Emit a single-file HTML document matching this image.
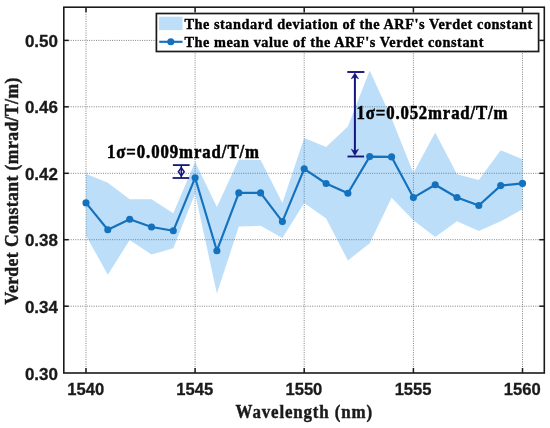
<!DOCTYPE html>
<html><head><meta charset="utf-8"><title>Verdet constant</title>
<style>
html,body{margin:0;padding:0;background:#fff;}
body{width:550px;height:428px;overflow:hidden;}
svg{display:block;}
.tk{font-family:"Liberation Sans",Arial,sans-serif;font-weight:bold;font-size:17px;fill:#1a1a1a;stroke:#1a1a1a;stroke-width:0.3px;}
.lb{font-family:"Liberation Serif","Times New Roman",serif;font-weight:bold;font-size:17.6px;fill:#1a1a1a;stroke:#1a1a1a;stroke-width:0.45px;}
.an{font-family:"Liberation Serif","Times New Roman",serif;font-weight:bold;font-size:17.5px;fill:#000;stroke:#000;stroke-width:0.55px;}
.lg{font-family:"Liberation Serif","Times New Roman",serif;font-weight:bold;font-size:15.3px;fill:#000;stroke:#000;stroke-width:0.4px;}
.tx{font-size:16.6px;}
</style></head><body>
<svg width="550" height="428" viewBox="0 0 550 428">
<rect width="550" height="428" fill="#fff"/>
<line x1="86.0" y1="7.2" x2="86.0" y2="373.0" stroke="#808080" stroke-width="1" stroke-dasharray="1 1.3"/>
<line x1="195.1" y1="7.2" x2="195.1" y2="373.0" stroke="#808080" stroke-width="1" stroke-dasharray="1 1.3"/>
<line x1="304.2" y1="7.2" x2="304.2" y2="373.0" stroke="#808080" stroke-width="1" stroke-dasharray="1 1.3"/>
<line x1="413.4" y1="7.2" x2="413.4" y2="373.0" stroke="#808080" stroke-width="1" stroke-dasharray="1 1.3"/>
<line x1="522.5" y1="7.2" x2="522.5" y2="373.0" stroke="#808080" stroke-width="1" stroke-dasharray="1 1.3"/>
<line x1="63.8" y1="40.4" x2="544.3" y2="40.4" stroke="#808080" stroke-width="1" stroke-dasharray="1 1.3"/>
<line x1="63.8" y1="106.8" x2="544.3" y2="106.8" stroke="#808080" stroke-width="1" stroke-dasharray="1 1.3"/>
<line x1="63.8" y1="173.3" x2="544.3" y2="173.3" stroke="#808080" stroke-width="1" stroke-dasharray="1 1.3"/>
<line x1="63.8" y1="239.7" x2="544.3" y2="239.7" stroke="#808080" stroke-width="1" stroke-dasharray="1 1.3"/>
<line x1="63.8" y1="306.2" x2="544.3" y2="306.2" stroke="#808080" stroke-width="1" stroke-dasharray="1 1.3"/>
<polygon fill="rgb(32,145,232)" fill-opacity="0.3" points="86.0,173.7 107.8,182.7 129.7,199.2 151.5,199.2 173.3,213.3 195.1,162.1 216.9,207.0 238.8,159.5 260.6,160.1 282.4,203.1 304.2,138.0 326.1,147.1 347.9,126.4 369.7,70.6 391.6,118.5 413.4,173.0 435.2,132.5 457.0,174.3 478.8,180.0 500.7,150.2 522.5,159.2 522.5,209.2 500.7,221.3 478.8,231.0 457.0,221.3 435.2,237.0 413.4,220.3 391.6,197.8 369.7,243.3 347.9,260.4 326.1,218.5 304.2,203.0 282.4,237.9 260.6,225.7 238.8,226.6 216.9,293.5 195.1,193.5 173.3,248.2 151.5,254.6 129.7,240.1 107.8,274.7 86.0,235.5"/>
<polyline fill="none" stroke="#1471be" stroke-width="2.15" stroke-linejoin="round" points="86.0,202.9 107.8,229.8 129.7,219.2 151.5,227.0 173.3,230.8 195.1,177.8 216.9,250.7 238.8,192.9 260.6,192.9 282.4,221.6 304.2,168.8 326.1,183.5 347.9,193.2 369.7,156.6 391.6,156.9 413.4,197.6 435.2,184.7 457.0,197.5 478.8,205.5 500.7,185.6 522.5,183.4"/>
<circle cx="86.0" cy="202.9" r="3.55" fill="#1471be"/>
<circle cx="107.8" cy="229.8" r="3.55" fill="#1471be"/>
<circle cx="129.7" cy="219.2" r="3.55" fill="#1471be"/>
<circle cx="151.5" cy="227.0" r="3.55" fill="#1471be"/>
<circle cx="173.3" cy="230.8" r="3.55" fill="#1471be"/>
<circle cx="195.1" cy="177.8" r="3.55" fill="#1471be"/>
<circle cx="216.9" cy="250.7" r="3.55" fill="#1471be"/>
<circle cx="238.8" cy="192.9" r="3.55" fill="#1471be"/>
<circle cx="260.6" cy="192.9" r="3.55" fill="#1471be"/>
<circle cx="282.4" cy="221.6" r="3.55" fill="#1471be"/>
<circle cx="304.2" cy="168.8" r="3.55" fill="#1471be"/>
<circle cx="326.1" cy="183.5" r="3.55" fill="#1471be"/>
<circle cx="347.9" cy="193.2" r="3.55" fill="#1471be"/>
<circle cx="369.7" cy="156.6" r="3.55" fill="#1471be"/>
<circle cx="391.6" cy="156.9" r="3.55" fill="#1471be"/>
<circle cx="413.4" cy="197.6" r="3.55" fill="#1471be"/>
<circle cx="435.2" cy="184.7" r="3.55" fill="#1471be"/>
<circle cx="457.0" cy="197.5" r="3.55" fill="#1471be"/>
<circle cx="478.8" cy="205.5" r="3.55" fill="#1471be"/>
<circle cx="500.7" cy="185.6" r="3.55" fill="#1471be"/>
<circle cx="522.5" cy="183.4" r="3.55" fill="#1471be"/>
<rect x="63.8" y="7.2" width="480.5" height="365.8" fill="none" stroke="#1a1a1a" stroke-width="1.6"/>
<line x1="86.0" y1="373.0" x2="86.0" y2="368.0" stroke="#1a1a1a" stroke-width="1.5"/>
<line x1="86.0" y1="7.2" x2="86.0" y2="12.2" stroke="#1a1a1a" stroke-width="1.5"/>
<line x1="195.1" y1="373.0" x2="195.1" y2="368.0" stroke="#1a1a1a" stroke-width="1.5"/>
<line x1="195.1" y1="7.2" x2="195.1" y2="12.2" stroke="#1a1a1a" stroke-width="1.5"/>
<line x1="304.2" y1="373.0" x2="304.2" y2="368.0" stroke="#1a1a1a" stroke-width="1.5"/>
<line x1="304.2" y1="7.2" x2="304.2" y2="12.2" stroke="#1a1a1a" stroke-width="1.5"/>
<line x1="413.4" y1="373.0" x2="413.4" y2="368.0" stroke="#1a1a1a" stroke-width="1.5"/>
<line x1="413.4" y1="7.2" x2="413.4" y2="12.2" stroke="#1a1a1a" stroke-width="1.5"/>
<line x1="522.5" y1="373.0" x2="522.5" y2="368.0" stroke="#1a1a1a" stroke-width="1.5"/>
<line x1="522.5" y1="7.2" x2="522.5" y2="12.2" stroke="#1a1a1a" stroke-width="1.5"/>
<line x1="63.8" y1="40.4" x2="68.8" y2="40.4" stroke="#1a1a1a" stroke-width="1.5"/>
<line x1="544.3" y1="40.4" x2="539.3" y2="40.4" stroke="#1a1a1a" stroke-width="1.5"/>
<line x1="63.8" y1="106.8" x2="68.8" y2="106.8" stroke="#1a1a1a" stroke-width="1.5"/>
<line x1="544.3" y1="106.8" x2="539.3" y2="106.8" stroke="#1a1a1a" stroke-width="1.5"/>
<line x1="63.8" y1="173.3" x2="68.8" y2="173.3" stroke="#1a1a1a" stroke-width="1.5"/>
<line x1="544.3" y1="173.3" x2="539.3" y2="173.3" stroke="#1a1a1a" stroke-width="1.5"/>
<line x1="63.8" y1="239.7" x2="68.8" y2="239.7" stroke="#1a1a1a" stroke-width="1.5"/>
<line x1="544.3" y1="239.7" x2="539.3" y2="239.7" stroke="#1a1a1a" stroke-width="1.5"/>
<line x1="63.8" y1="306.2" x2="68.8" y2="306.2" stroke="#1a1a1a" stroke-width="1.5"/>
<line x1="544.3" y1="306.2" x2="539.3" y2="306.2" stroke="#1a1a1a" stroke-width="1.5"/>
<text class="tk tx" x="85.7" y="394.9" text-anchor="middle">1540</text>
<text class="tk tx" x="194.8" y="394.9" text-anchor="middle">1545</text>
<text class="tk tx" x="303.9" y="394.9" text-anchor="middle">1550</text>
<text class="tk tx" x="413.1" y="394.9" text-anchor="middle">1555</text>
<text class="tk tx" x="522.2" y="394.9" text-anchor="middle">1560</text>
<text class="tk" x="58" y="47.0" text-anchor="end">0.50</text>
<text class="tk" x="58" y="113.4" text-anchor="end">0.46</text>
<text class="tk" x="58" y="179.9" text-anchor="end">0.42</text>
<text class="tk" x="58" y="246.3" text-anchor="end">0.38</text>
<text class="tk" x="58" y="312.8" text-anchor="end">0.34</text>
<text class="tk" x="58" y="379.6" text-anchor="end">0.30</text>
<text class="lb" style="font-size:18.4px" transform="translate(235.6,418.2) scale(0.920,1.000)" textLength="148.3" lengthAdjust="spacing">Wavelength (nm)</text>
<text class="lb" style="font-size:18.8px" transform="translate(17.5,304.6) rotate(-90) scale(0.940,1.000)" textLength="241.5" lengthAdjust="spacing">Verdet Constant (mrad/T/m)</text>
<g stroke="#15157f" stroke-width="1.8" fill="none"><line x1="172.9" y1="165.1" x2="189.6" y2="165.1"/><line x1="172.6" y1="178" x2="189.2" y2="178"/><line x1="181.3" y1="165.1" x2="181.3" y2="178" stroke-width="1.5"/><polygon points="181.3,167.6 184.2,171.8 181.3,176 178.4,171.8" stroke-width="1.5"/></g>
<g stroke="#15157f" stroke-width="1.9" fill="none"><line x1="347.3" y1="72" x2="364.4" y2="72"/><line x1="347.5" y1="156.5" x2="364.1" y2="156.5"/><line x1="354.9" y1="75" x2="354.9" y2="153.5" stroke-width="2"/></g><g fill="#15157f" stroke="#15157f" stroke-width="0.6" stroke-linejoin="round"><polygon points="354.9,73 358.5,78.8 354.9,76.9 351.3,78.8"/><polygon points="354.9,155.5 358.4,149.2 354.9,151.3 351.4,149.2"/></g>
<text class="an" style="font-size:18.6px" transform="translate(107.0,157.8) scale(0.900,1.000)" textLength="168.9" lengthAdjust="spacing">1σ=0.009mrad/T/m</text>
<text class="an" style="font-size:18.6px" transform="translate(356.6,118.7) scale(0.900,1.000)" textLength="167.7" lengthAdjust="spacing">1σ=0.052mrad/T/m</text>
<rect x="156.4" y="13.5" width="382.2" height="38.0" fill="#fff" stroke="#1a1a1a" stroke-width="1.7"/>
<rect x="159.1" y="16.7" width="23.4" height="13.4" fill="#bcdef8"/>
<line x1="159.2" y1="41.8" x2="182.5" y2="41.8" stroke="#1471be" stroke-width="2.15"/><circle cx="170.8" cy="41.8" r="3.55" fill="#1471be"/>
<text class="lg" style="font-size:15.2px" transform="translate(184.4,28.9) scale(0.940,1.000)" textLength="370.2" lengthAdjust="spacing">The standard deviation of the ARF's Verdet constant</text>
<text class="lg" style="font-size:15.2px" transform="translate(184.4,47.4) scale(0.940,1.000)" textLength="318.1" lengthAdjust="spacing">The mean value of the ARF's Verdet constant</text>
</svg>
</body></html>
